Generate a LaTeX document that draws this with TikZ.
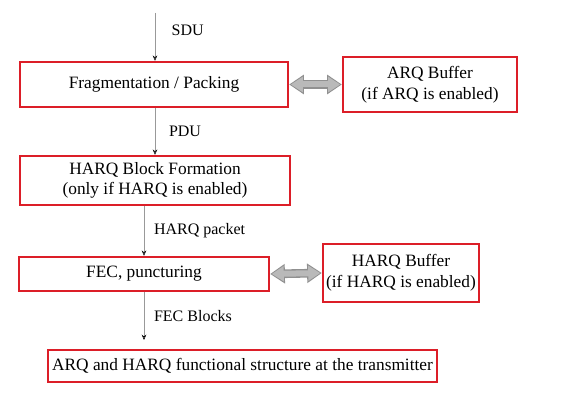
\documentclass[tikz,border=0pt]{standalone}
\usepackage{fontspec}
\setmainfont{Liberation Serif}
\usetikzlibrary{arrows,arrows.meta,positioning}
\definecolor{boxred}{RGB}{220,30,40}

\begin{document}
\begin{tikzpicture}[x=0.75pt,y=-0.75pt,
	blk/.style={draw=boxred,line width=1.8pt,align=center,inner sep=0pt,font=\fontsize{13}{15.5}\selectfont},
	lbl/.style={font=\fontsize{12}{14}\selectfont,anchor=west,text=black},
	flow/.style={-{Stealth[black,length=4pt,width=3.5pt]},gray!80,thin},
	big/.style={line width=6.5pt,gray!75!black!70,{Triangle[length=11pt,width=14pt]}-{Triangle[length=11pt,width=14pt]}},
	bigin/.style={line width=4.5pt,gray!55,shorten <=1.2pt,shorten >=1.2pt,{Triangle[length=9pt,width=11pt]}-{Triangle[length=9pt,width=11pt]}}]
	\useasboundingbox (0,0) rectangle (561,402);

	\node[blk,minimum width=268*0.75pt,minimum height=45*0.75pt](Frag) at (154,84.5) {Fragmentation / Packing};
	\node[blk,minimum width=270*0.75pt,minimum height=49*0.75pt](HBlk) at (155,180.5) {HARQ Block Formation\\(only if HARQ is enabled)};
	\node[blk,minimum width=250*0.75pt,minimum height=34*0.75pt](FEC) at (144,274) {FEC, puncturing};
	\node[blk,minimum width=174*0.75pt,minimum height=55*0.75pt](ABuf) at (430,84.5) {ARQ Buffer\\(if ARQ is enabled)};
	\node[blk,minimum width=156*0.75pt,minimum height=58*0.75pt](HBuf) at (401,273) {HARQ Buffer\\(if HARQ is enabled)};
	\node[blk,minimum width=389*0.75pt,minimum height=32*0.75pt](Cap) at (242.5,366) {ARQ and HARQ functional structure at the transmitter};

	\coordinate (In) at (155,13);
	\coordinate (Out) at (144,340);

	\path[flow]
		(In) edge node[lbl,xshift=9pt,yshift=5pt] {SDU} (Frag.north -| In)
		(Frag.south -| In) edge node[lbl,xshift=7pt] {PDU} (HBlk.north -| In)
		(HBlk.south -| FEC.north) edge node[lbl,xshift=4pt] {HARQ packet} (FEC.north)
		(FEC.south) edge node[lbl,xshift=4pt] {FEC Blocks} (Out);

	\foreach \a/\b in {Frag/ABuf,FEC/HBuf}
	{
		\draw[big] (\a.east) -- (\b.west);
		\draw[bigin] (\a.east) -- (\b.west);
	}
\end{tikzpicture}
\end{document}
